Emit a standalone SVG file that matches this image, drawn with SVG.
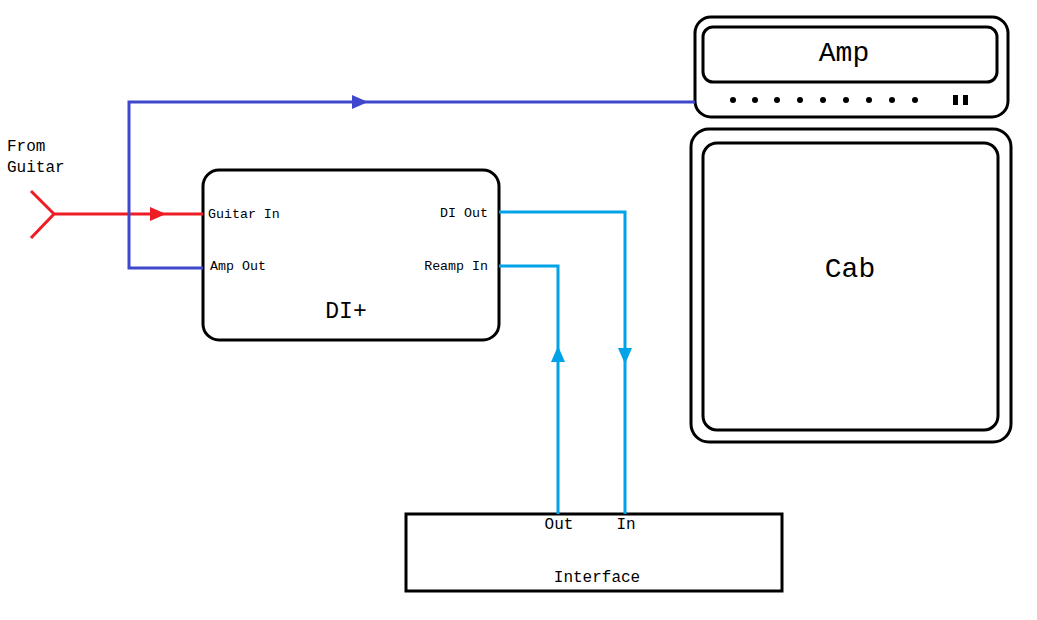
<svg xmlns="http://www.w3.org/2000/svg" width="1037" height="620" viewBox="0 0 1037 620">
<style>
.box{fill:#fff;stroke:#000;stroke-width:3}
.t{font-family:"Liberation Mono",monospace;fill:#000}
.s{font-size:13.3px}
.w{fill:none;stroke-width:3}
</style>
<rect width="1037" height="620" fill="#fff"/>
<g id="amp">
<rect class="box" x="695" y="17" width="313" height="100" rx="16"/>
<rect class="box" x="703" y="27" width="294" height="55" rx="10"/>
<text class="t" x="844" y="61" font-size="28" text-anchor="middle">Amp</text>
<g fill="#000"><circle cx="733" cy="100" r="3"/><circle cx="755" cy="100" r="3"/><circle cx="777" cy="100" r="3"/><circle cx="800" cy="100" r="3"/><circle cx="823" cy="100" r="3"/><circle cx="846" cy="100" r="3"/><circle cx="869" cy="100" r="3"/><circle cx="892" cy="100" r="3"/><circle cx="915" cy="100" r="3"/>
<rect x="953" y="95" width="5" height="10"/><rect x="963" y="95" width="5" height="10"/></g>
</g>
<g id="cab">
<rect class="box" x="691" y="129" width="320" height="313" rx="18"/>
<rect class="box" x="703" y="143" width="295" height="287" rx="14"/>
<text class="t" x="850" y="277" font-size="28" text-anchor="middle">Cab</text>
</g>
<g id="di">
<rect class="box" x="203" y="170" width="296" height="170" rx="16"/>
<text class="t s" x="208" y="218">Guitar In</text>
<text class="t s" x="210" y="270">Amp Out</text>
<text class="t s" x="488" y="217" text-anchor="end">DI Out</text>
<text class="t s" x="488" y="270" text-anchor="end">Reamp In</text>
<text class="t" x="346" y="318" font-size="23" text-anchor="middle">DI+</text>
</g>
<g id="interface">
<rect class="box" x="406" y="514" width="376" height="77"/>
<text class="t" x="559" y="529" font-size="16" text-anchor="middle">Out</text>
<text class="t" x="626" y="529" font-size="16" text-anchor="middle">In</text>
<text class="t" x="597" y="582" font-size="16" text-anchor="middle">Interface</text>
</g>
<g id="guitar">
<text class="t" x="7" y="151" font-size="16">From</text>
<text class="t" x="7" y="172" font-size="16">Guitar</text>
</g>
<g id="connectors">
<path class="w" stroke="#ee1c24" d="M31,191L54,214L31,238M54,214H203"/>
<path d="M150,207L166,214L150,221z" fill="#ee1c24"/>
<path class="w" stroke="#3f48cc" d="M203,268H129V102H695"/>
<path d="M352,95L368,102L352,109z" fill="#3f48cc"/>
<path class="w" stroke="#00a2e8" d="M499,212H625V514"/>
<path d="M618,348L625,364L632,348z" fill="#00a2e8"/>
<path class="w" stroke="#00a2e8" d="M558,514V266H499"/>
<path d="M551,362L558,346L565,362z" fill="#00a2e8"/>
</g>
</svg>
